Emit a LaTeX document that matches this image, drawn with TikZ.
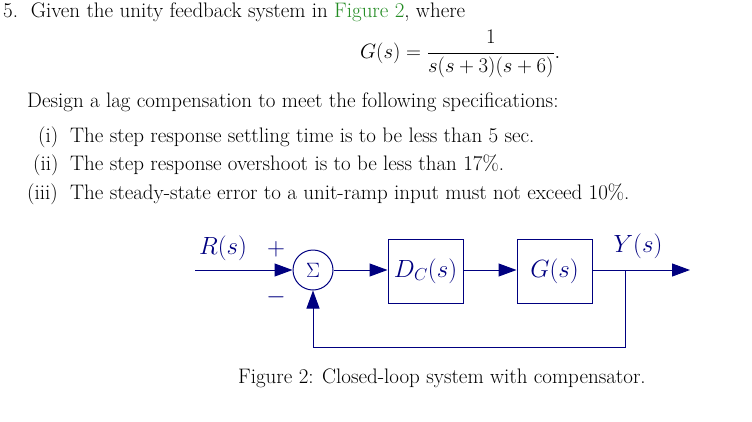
\documentclass[tikz,border=0pt]{standalone}
\usetikzlibrary{arrows.meta}
\definecolor{nv}{RGB}{0,0,128}
\definecolor{fg}{RGB}{34,139,34}
\begin{document}
\begin{tikzpicture}[x=1pt,y=-1pt,
  txt/.style={anchor=west,inner sep=0pt,font=\fontsize{21}{25}\selectfont},
  blk/.style={draw=nv,line width=1pt,minimum width=75pt,minimum height=64pt,inner sep=0pt,font=\fontsize{24}{28}\selectfont,text=nv},
  sig/.style={draw=nv,line width=1pt},
  arr/.style={sig,-{Triangle[length=18pt,width=13pt]}},
  lab/.style={inner sep=0pt,font=\fontsize{24}{28}\selectfont,text=nv}]
\useasboundingbox (0,0) rectangle (752,421);
\node[txt] (l1) at (3,12) {5.\ \ Given the unity feedback system in \textcolor{fg}{Figure 2}, where};
\node[txt] (eq) at (360,54) {$\displaystyle G(s) = \frac{1}{s(s+3)(s+6)}.$};
\node[txt] (l2) at (27,102) {Design a lag compensation to meet the following specifications:};
\node[txt] (i1) at (38,137) {(i)};
\node[txt] (i2) at (33,165) {(ii)};
\node[txt] (i3) at (27,194) {(iii)};
\node[txt] (t1) at (70,137) {The step response settling time is to be less than 5 sec.};
\node[txt] (t2) at (70,165) {The step response overshoot is to be less than 17\%.};
\node[txt] (t3) at (70,194) {The steady-state error to a unit-ramp input must not exceed 10\%.};
% diagram
\coordinate (in) at (195,270);
\node[circle,draw=nv,line width=1pt,minimum size=40pt,inner sep=0pt,text=nv,font=\fontsize{20}{24}\selectfont] (sum) at (313,270) {$\Sigma$};
\node[blk] (dc) at (425.5,271) {$D_C(s)$};
\node[blk] (g) at (554.5,271) {$G(s)$};
\coordinate (br) at (625,270);
\coordinate (out) at (690,270);
\coordinate (c1) at (625,347);
\coordinate (c2) at (313,347);
\draw[arr] (in) -- (sum);
\draw[arr] (sum) -- (dc.west|-sum);
\draw[arr] (dc.east|-sum) -- (g.west|-sum);
\draw[arr] (g.east|-sum) -- (out);
\draw[sig] (br) -- (c1) -- (c2);
\draw[arr] (c2) -- (sum.south);
\node[lab] (r) at (223,248) {$R(s)$};
\node[lab] (p) at (276,249) {$+$};
\node[lab] (m) at (276,297) {$-$};
\node[lab] (y) at (638,246) {$Y(s)$};
\node[txt] (cap) at (238,378) {Figure 2: Closed-loop system with compensator.};
\end{tikzpicture}
\end{document}
